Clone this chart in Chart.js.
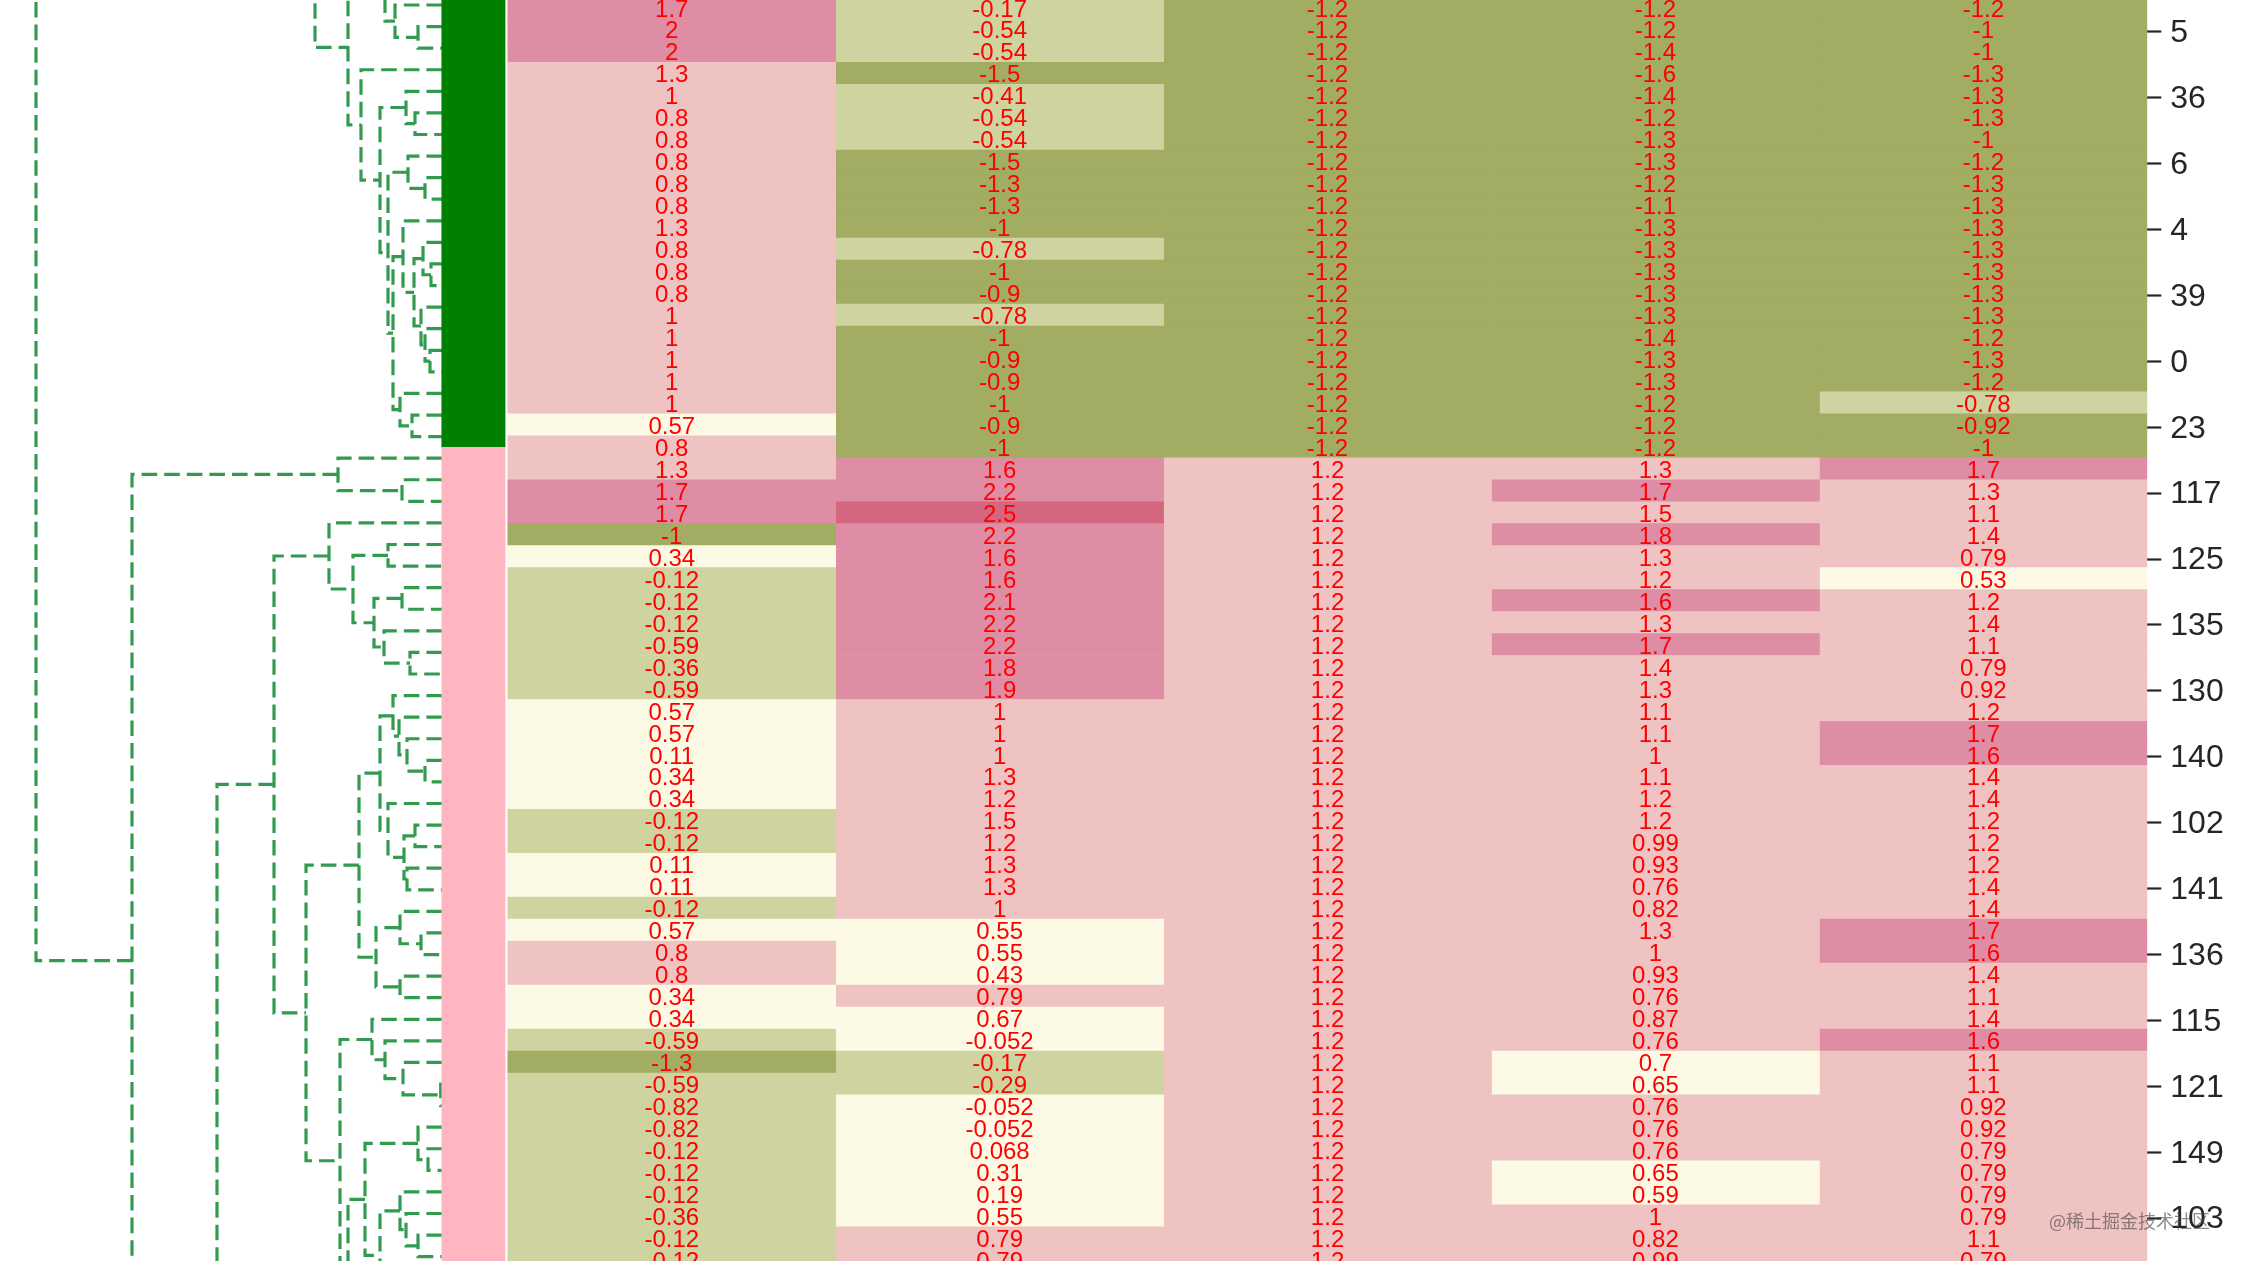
<!DOCTYPE html>
<html>
<head>
<meta charset="utf-8">
<title>clustermap</title>
<script src="https://cdn.jsdelivr.net/npm/chart.js@4"></script>
<style>
    html, body { margin: 0; padding: 0; width: 2241px; height: 1261px; overflow: hidden; background: #ffffff; }
    #chart { position: absolute; left: 0; top: -60px; }
    #mark { position: absolute; left: 2049px; top: 1207px; font: 18px "Noto Sans CJK SC", sans-serif; color: rgba(70, 70, 70, 0.62); white-space: nowrap; }
</style>
</head>
<body>
<canvas id="chart" width="2241" height="1380"></canvas>
<div id="mark">@稀土掘金技术社区</div>
<script>
// heatmap values, one list per column, top row first
const col0 = [1.7,2,2,1.3,1,0.8,0.8,0.8,0.8,0.8,1.3,0.8,0.8,0.8,1,1,1,1,1,0.57,0.8,1.3,1.7,1.7,-1,0.34,-0.12,-0.12,-0.12,-0.59,-0.36,-0.59,0.57,0.57,0.11,0.34,0.34,-0.12,-0.12,0.11,0.11,-0.12,0.57,0.8,0.8,0.34,0.34,-0.59,-1.3,-0.59,-0.82,-0.82,-0.12,-0.12,-0.12,-0.36,-0.12,-0.12];
const col1 = [-0.17,-0.54,-0.54,-1.5,-0.41,-0.54,-0.54,-1.5,-1.3,-1.3,-1,-0.78,-1,-0.9,-0.78,-1,-0.9,-0.9,-1,-0.9,-1,1.6,2.2,2.5,2.2,1.6,1.6,2.1,2.2,2.2,1.8,1.9,1,1,1,1.3,1.2,1.5,1.2,1.3,1.3,1,0.55,0.55,0.43,0.79,0.67,-0.052,-0.17,-0.29,-0.052,-0.052,0.068,0.31,0.19,0.55,0.79,0.79];
const col2 = [-1.2,-1.2,-1.2,-1.2,-1.2,-1.2,-1.2,-1.2,-1.2,-1.2,-1.2,-1.2,-1.2,-1.2,-1.2,-1.2,-1.2,-1.2,-1.2,-1.2,-1.2,1.2,1.2,1.2,1.2,1.2,1.2,1.2,1.2,1.2,1.2,1.2,1.2,1.2,1.2,1.2,1.2,1.2,1.2,1.2,1.2,1.2,1.2,1.2,1.2,1.2,1.2,1.2,1.2,1.2,1.2,1.2,1.2,1.2,1.2,1.2,1.2,1.2];
const col3 = [-1.2,-1.2,-1.4,-1.6,-1.4,-1.2,-1.3,-1.3,-1.2,-1.1,-1.3,-1.3,-1.3,-1.3,-1.3,-1.4,-1.3,-1.3,-1.2,-1.2,-1.2,1.3,1.7,1.5,1.8,1.3,1.2,1.6,1.3,1.7,1.4,1.3,1.1,1.1,1,1.1,1.2,1.2,0.99,0.93,0.76,0.82,1.3,1,0.93,0.76,0.87,0.76,0.7,0.65,0.76,0.76,0.76,0.65,0.59,1,0.82,0.99];
const col4 = [-1.2,-1,-1,-1.3,-1.3,-1.3,-1,-1.2,-1.3,-1.3,-1.3,-1.3,-1.3,-1.3,-1.3,-1.2,-1.3,-1.2,-0.78,-0.92,-1,1.7,1.3,1.1,1.4,0.79,0.53,1.2,1.4,1.1,0.79,0.92,1.2,1.7,1.6,1.4,1.4,1.2,1.2,1.2,1.4,1.4,1.7,1.6,1.4,1.1,1.4,1.6,1.1,1.1,0.92,0.92,0.79,0.79,0.79,0.79,1.1,0.79];
const columns = [col0, col1, col2, col3, col4];

// right axis: every third row is labelled, starting at row 1
const tickLabels = ['5','36','6','4','39','0','23','117','125','135','130','140','102','141','136','115','121','149','103'];

// colour bins of the heatmap
const binEdges = [-0.85, -0.1, 0.72, 1.55, 2.35];
const binColors = ['#a2ac62', '#cfd3a0', '#fcfae4', '#eec3c1', '#de8da4', '#d5667f'];

// row colour strip: leaf positions where the groups start and end
const stripEdges = [-1, 20.5, 60];
const stripColors = ['#008000', '#ffb6c1'];

// dendrogram merges: [id, top child, bottom child, distance]
// a number is a leaf position, a string is an earlier merge. Leaves outside 0..58 are above or below the picture.
const merges = [
    ['m0', 1, 2, 24], ['m1', 0, 'm0', 47], ['m2', -4, 'm1', 57],
    ['m3', 5, 6, 27], ['m4', 4, 'm3', 36], ['m5', 8, 9, 17], ['m6', 7, 'm5', 34],
    ['m7', 12, 13, 11], ['m8', 11, 'm7', 19], ['m9', 16, 17, 12], ['m10', 15, 'm9', 17],
    ['m11', 14, 'm10', 21], ['m12', 'm8', 'm11', 28], ['m13', 10, 'm12', 39],
    ['m14', 19, 20, 30], ['m15', 18, 'm14', 42], ['m16', 'm13', 'm15', 49],
    ['m17', 'm6', 'm16', 54], ['m18', 'm4', 'm17', 62], ['m19', 3, 'm18', 81],
    ['m20', 'm2', 'm19', 94], ['m21', -12, 'm20', 127],
    ['p0', 22, 23, 40], ['p1', 21, 'p0', 104],
    ['p2', 25, 26, 54], ['p3', 27, 28, 40], ['p4', 30, 31, 32], ['p5', 29, 'p4', 58],
    ['p6', 'p3', 'p5', 68], ['p7', 'p2', 'p6', 89], ['p8', 24, 'p7', 113],
    ['p9', 35, 36, 17], ['p10', 34, 'p9', 35], ['p11', 33, 'p10', 43], ['p12', 32, 'p11', 49],
    ['p13', 38, 39, 27], ['p14', 40, 41, 35], ['p15', 'p13', 'p14', 38], ['p16', 37, 'p15', 54],
    ['p17', 'p12', 'p16', 62], ['p18', 43, 44, 21], ['p19', 42, 'p18', 42], ['p20', 45, 46, 42],
    ['p21', 'p19', 'p20', 66], ['p22', 'p17', 'p21', 83],
    ['p23', 50, 51, 1.3], ['p24', 49, 'p23', 39], ['p25', 48, 'p24', 57], ['p26', 47, 'p25', 70],
    ['p27', 53, 54, 14], ['p28', 52, 'p27', 24], ['p29', 57, 58, 24], ['p30', 56, 'p29', 36],
    ['p31', 55, 'p30', 42], ['p32', 'p31', 60, 62], ['p33', 'p28', 'p32', 77], ['p34', 'p33', 63, 94],
    ['p35', 'p26', 'p34', 102], ['p36', 'p22', 'p35', 136], ['p37', 'p8', 'p36', 168],
    ['p38', 'p37', 97.5, 225], ['p39', 'p1', 'p38', 310], ['root', 'm21', 'p39', 406]
];

function colorFor(v) {
    let i = 0;
    while (i < binEdges.length && v >= binEdges[i]) i++;
    return binColors[i];
}

// heatmap columns as floating horizontal bars
const heatDatasets = columns.map((values, c) => ({
    type: 'bar',
    data: values.map(() => [c, c + 1]),
    backgroundColor: values.map(colorFor),
    grouped: false,
    barPercentage: 1,
    categoryPercentage: 1
}));

// colour strip as vertical floating bars on the dendrogram's leaf scale
const stripDataset = {
    type: 'bar',
    indexAxis: 'x',
    xAxisID: 'x',
    yAxisID: 'yDend',
    grouped: false,
    barThickness: 63.3,
    data: stripColors.map((_, i) => ({ x: -0.1048, y: [stripEdges[i], stripEdges[i + 1]] })),
    backgroundColor: stripColors
};

// every merge is its own dashed path, top child first, like the original
const nodeY = {};
const nodeD = {};
const childY = c => typeof c === 'number' ? c : nodeY[c];
const childD = c => typeof c === 'number' ? 0 : nodeD[c];

const dendDatasets = merges.map(([id, a, b, d]) => {
    nodeY[id] = (childY(a) + childY(b)) / 2;
    nodeD[id] = d;
    return {
        type: 'scatter',
        indexAxis: 'x',
        xAxisID: 'xDend',
        yAxisID: 'yDend',
        showLine: true,
        pointRadius: 0,
        borderColor: '#329b50',
        borderWidth: 3.2,
        borderDash: [15.6, 7],
        data: [
            { x: childD(a), y: childY(a) },
            { x: d, y: childY(a) },
            { x: d, y: childY(b) },
            { x: childD(b), y: childY(b) }
        ]
    };
});

// red numbers in the cells
const cellLabels = {
    id: 'cellLabels',
    afterDatasetsDraw(chart) {
        const { ctx, scales } = chart;
        ctx.save();
        ctx.fillStyle = '#ff0000';
        ctx.font = '24px "Liberation Sans"';
        ctx.textAlign = 'center';
        ctx.textBaseline = 'middle';
        columns.forEach((values, c) => {
            values.forEach((v, r) => {
                // numbers sit a little below the middle of their band
                ctx.fillText(String(v), scales.x.getPixelForValue(c + 0.5), scales.y.getPixelForValue(r) + 2.5);
            });
        });
        ctx.restore();
    }
};

new Chart(document.getElementById('chart'), {
    type: 'bar',
    data: {
        labels: col0.map((_, i) => i),
        datasets: [...heatDatasets, stripDataset, ...dendDatasets]
    },
    options: {
        indexAxis: 'y',
        responsive: false,
        devicePixelRatio: 1,
        animation: false,
        events: [],
        layout: { padding: { top: 56.4, bottom: 49.3, left: 0, right: 0 } },
        plugins: { legend: { display: false }, tooltip: { enabled: false } },
        scales: {
            x: { type: 'linear', display: false, min: -1.5486, max: 5, beginAtZero: false, offset: false },
            y: { type: 'category', display: false, offset: true },
            xDend: { type: 'linear', display: false, reverse: true, min: -1705.3, max: 442, beginAtZero: false, offset: false },
            yDend: { type: 'linear', display: false, reverse: true, min: -0.3985, max: 58.65, offset: false, beginAtZero: false },
            yTicks: {
                type: 'linear',
                position: 'right',
                reverse: true,
                min: -0.607,
                max: 57.393,
                offset: false,
                beginAtZero: false,
                afterBuildTicks(scale) {
                    scale.ticks = tickLabels.map((_, k) => ({ value: 1 + 3 * k }));
                },
                afterFit(scale) {
                    scale.width = 93.7;
                },
                border: { display: false },
                grid: { drawOnChartArea: false, offset: false, tickLength: 14, tickWidth: 2.2, tickColor: '#262626' },
                ticks: {
                    autoSkip: false,
                    maxRotation: 0,
                    padding: 9,
                    labelOffset: 1.5,
                    color: '#262626',
                    font: { family: '"Liberation Sans"', size: 32 },
                    callback: v => tickLabels[(v - 1) / 3]
                }
            }
        }
    },
    plugins: [cellLabels]
});
</script>
</body>
</html>
